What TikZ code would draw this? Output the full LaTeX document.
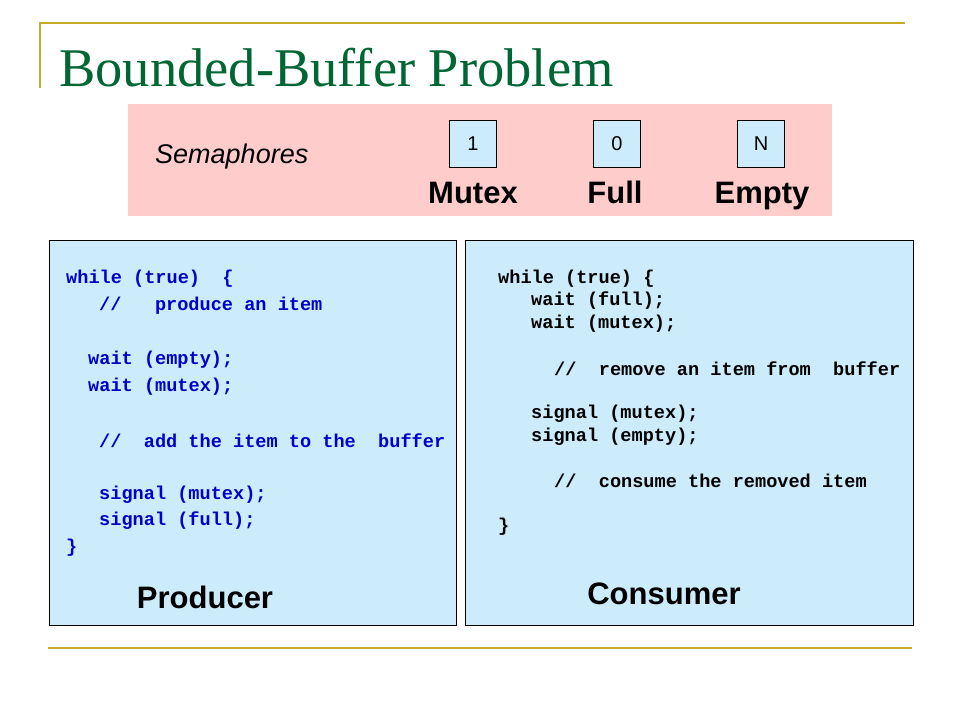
\documentclass[tikz,border=0pt]{standalone}
\usepackage{fontspec}
\setmainfont{Liberation Serif}
\setsansfont{Liberation Sans}
\setmonofont{Liberation Mono}
\begin{document}
\begin{tikzpicture}[x=1pt,y=-1pt,
  gold/.style={draw={rgb,255:red,200;green,170;blue,40},line width=1.5pt},
  panel/.style={draw=black,fill={rgb,255:red,204;green,235;blue,251},line width=0.8pt},
  sembox/.style={draw=black,fill={rgb,255:red,204;green,235;blue,251},minimum width=47pt,minimum height=47pt,inner sep=0pt,font=\sffamily\fontsize{20}{22}\selectfont},
  lbl/.style={anchor=base,font=\sffamily\bfseries\fontsize{31}{33}\selectfont},
  lcode/.style={anchor=west,inner sep=0pt,text={rgb,255:red,0;green,0;blue,200},font=\ttfamily\bfseries\fontsize{18.6}{20}\selectfont},
  rcode/.style={anchor=west,inner sep=0pt,text=black,font=\ttfamily\bfseries\fontsize{18.6}{20}\selectfont}]
\useasboundingbox (0,0) rectangle (960,720);
\fill[white] (0,0) rectangle (960,720);
\coordinate (g1) at (40,88); \coordinate (g2) at (40,23); \coordinate (g3) at (905,23);
\draw[gold] (g1) -- (g2) -- (g3);
\coordinate (b1) at (48,648); \coordinate (b2) at (912,648);
\draw[gold] (b1) -- (b2);
\node[anchor=base west,inner sep=0pt,text={rgb,255:red,0;green,102;blue,51},font=\fontsize{54.5}{58}\selectfont] (title) at (59,86) {Bounded-Buffer Problem};
\fill[fill={rgb,255:red,255;green,204;blue,204}] (128,104) rectangle (832,216);
\node[anchor=west,inner sep=0pt,font=\sffamily\itshape\fontsize{27}{29}\selectfont] (sem) at (155,157) {Semaphores};
\node[sembox] (s1) at (473,144) {1};
\node[sembox] (s2) at (617,144) {0};
\node[sembox] (s3) at (761,144) {N};
\node[lbl] (mutex) at (473,203) {Mutex};
\node[lbl] (full) at (615,203) {Full};
\node[lbl] (empty) at (762,203) {Empty};
\draw[panel] (49,240) rectangle (456,625);
\draw[panel] (465,240) rectangle (913,625);
\node[lcode] (l1) at (66,279) {while (true)~~\{};
\node[lcode] (l2) at (99,306) {//~~~produce an item};
\node[lcode] (l3) at (88,360) {wait (empty);};
\node[lcode] (l4) at (88,387) {wait (mutex);};
\node[lcode] (l5) at (99,441) {//~~add the item to the~~buffer};
\node[lcode] (l6) at (99,495) {signal (mutex);};
\node[lcode] (l7) at (99,521) {signal (full);};
\node[lcode] (l8) at (66,548) {\}};
\node[rcode] (r1) at (498,279) {while (true) \{};
\node[rcode] (r2) at (531,301) {wait (full);};
\node[rcode] (r3) at (531,324) {wait (mutex);};
\node[rcode] (r4) at (554,369) {//~~remove an item from~~buffer};
\node[rcode] (r5) at (531,414) {signal (mutex);};
\node[rcode] (r6) at (531,437) {signal (empty);};
\node[rcode] (r7) at (554,481) {//~~consume the removed item};
\node[rcode] (r8) at (498,527) {\}};
\node[lbl] (prod) at (205,608) {Producer};
\node[lbl] (cons) at (664,604) {Consumer};
\end{tikzpicture}
\end{document}
